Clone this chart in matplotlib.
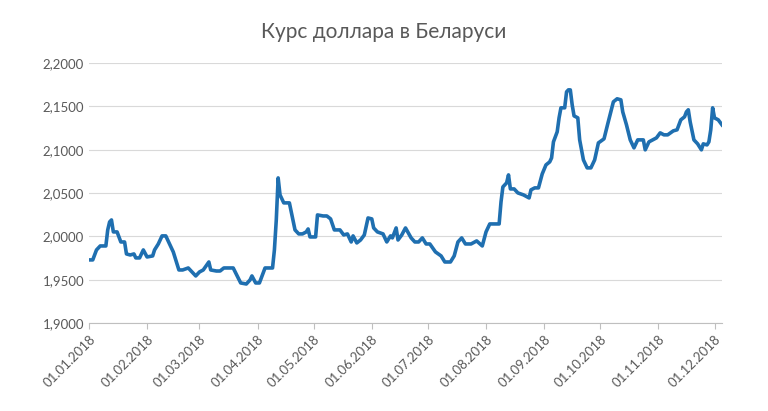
import numpy as np
import pandas as pd
import matplotlib.pyplot as plt
import matplotlib.dates as mdates

plt.rcParams['font.family'] = ['Lato', 'DejaVu Sans']

# day offset from 01.01.2018 and rate
days = [0, 2, 4, 6, 9, 10, 11, 12, 13, 15, 17, 19, 20, 22, 24, 25, 27, 29, 31, 34, 35, 37, 39, 41, 43, 45,
        48, 50, 53, 55, 57, 59, 61, 64, 65, 68, 70, 72, 74, 77, 81, 84, 86, 87, 89, 91, 94, 96, 98, 99,
        100, 101, 102, 104, 107, 110, 112, 114, 116, 117, 118, 121, 122, 125, 127, 129, 131, 134, 136, 138,
        140, 141, 143, 145, 147, 149, 151, 152, 154, 157, 159, 161, 162, 164, 165, 167, 169, 172, 174, 176,
        178, 180, 182, 185, 188, 190, 193, 195, 197, 199, 201, 204, 207, 210, 212, 214, 216, 219, 220, 221,
        223, 224, 225, 227, 229, 232, 235, 236, 238, 240, 242, 244, 246, 247, 248, 250, 251, 252, 254, 255,
        256, 257, 258, 259, 261, 262, 264, 266, 268, 270, 272, 275, 277, 280, 282, 284, 285, 287, 289, 291,
        293, 296, 297, 299, 301, 303, 305, 307, 309, 312, 314, 316, 318, 319, 320, 321, 323, 325, 327, 328,
        330, 331, 332, 333, 334, 336, 338]
rates = [1.9728, 1.9728, 1.9843, 1.9889, 1.9889, 2.0074, 2.0166, 2.0189, 2.0051, 2.0051, 1.9935, 1.9935,
         1.9797, 1.9785, 1.9797, 1.9751, 1.9751, 1.9843, 1.9762, 1.9774, 1.9843, 1.9912, 2.0005, 2.0005,
         1.9912, 1.9820, 1.9612, 1.9612, 1.9635, 1.9589, 1.9543, 1.9589, 1.9612, 1.9704, 1.9612, 1.9600,
         1.9600, 1.9635, 1.9635, 1.9635, 1.9462, 1.9450, 1.9497, 1.9543, 1.9462, 1.9462, 1.9635, 1.9635,
         1.9635, 1.9843, 2.0189, 2.0674, 2.0478, 2.0386, 2.0386, 2.0074, 2.0028, 2.0028, 2.0051, 2.0085,
         1.9993, 1.9993, 2.0247, 2.0235, 2.0235, 2.0201, 2.0074, 2.0074, 2.0016, 2.0028, 1.9935, 2.0005,
         1.9924, 1.9958, 2.0016, 2.0212, 2.0201, 2.0097, 2.0051, 2.0028, 1.9935, 2.0005, 1.9982, 2.0097,
         1.9958, 2.0016, 2.0097, 1.9982, 1.9935, 1.9935, 1.9982, 1.9912, 1.9912, 1.9820, 1.9774, 1.9704,
         1.9704, 1.9774, 1.9935, 1.9982, 1.9912, 1.9912, 1.9947, 1.9889, 2.0051, 2.0143, 2.0143, 2.0143,
         2.0397, 2.0570, 2.0617, 2.0709, 2.0547, 2.0547, 2.0501, 2.0478, 2.0443, 2.0536, 2.0559, 2.0559,
         2.0720, 2.0824, 2.0859, 2.0905, 2.1090, 2.1206, 2.1367, 2.1483, 2.1483, 2.1667, 2.1690, 2.1690,
         2.1517, 2.1390, 2.1367, 2.1113, 2.0882, 2.0790, 2.0790, 2.0882, 2.1078, 2.1125, 2.1298, 2.1552,
         2.1587, 2.1575, 2.1436, 2.1286, 2.1113, 2.1021, 2.1113, 2.1113, 2.0998, 2.1090, 2.1113, 2.1136,
         2.1194, 2.1171, 2.1171, 2.1217, 2.1229, 2.1344, 2.1379, 2.1436, 2.1460, 2.1321, 2.1113, 2.1067,
         2.0998, 2.1067, 2.1055, 2.1090, 2.1229, 2.1483, 2.1367, 2.1344, 2.1286]

dates = pd.Timestamp("2018-01-01") + pd.to_timedelta(days, unit="D")
ticks = pd.date_range("2018-01-01", "2018-12-01", freq="MS")

fig = plt.figure(figsize=(7.68, 4.11), dpi=100)
ax = fig.add_axes([89 / 768, 1 - 323 / 411, 633 / 768, 260 / 411])
ax.plot(dates, rates, color="#1f6fb0", lw=2.6, solid_joinstyle="round")

ax.set_ylim(1.9, 2.2)
ax.set_yticks(np.arange(1.9, 2.2001, 0.05))
ax.yaxis.set_major_formatter(plt.FuncFormatter(lambda v, p: f"{v:.4f}".replace(".", ",")))
ax.set_xlim(ticks[0], pd.Timestamp("2018-12-05"))
ax.set_xticks(ticks)
ax.xaxis.set_major_formatter(mdates.DateFormatter("%d.%m.%Y"))
plt.setp(ax.get_xticklabels(), rotation=45, ha="right", rotation_mode="anchor")
ax.tick_params(colors="#595959", labelsize=9.5, length=0)
ax.tick_params(axis="x", length=4, color="#bfbfbf")
ax.grid(axis="y", color="#d9d9d9", lw=0.8)
ax.set_axisbelow(True)
for s in ["top", "right", "left"]:
    ax.spines[s].set_visible(False)
ax.spines["bottom"].set_color("#bfbfbf")

fig.text(0.5, 1 - 32 / 411, "Курс доллара в Беларуси", ha="center", va="center",
         fontsize=15, color="#595959")

fig.savefig("out.png", dpi=100)
